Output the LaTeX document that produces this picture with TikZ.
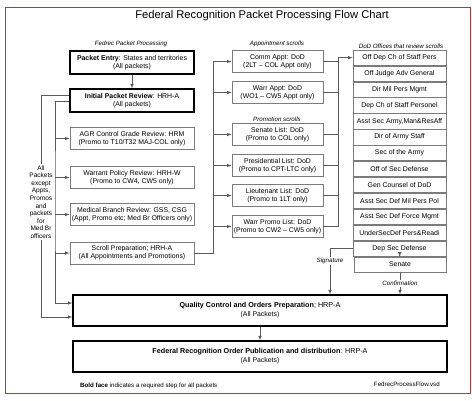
\documentclass[tikz,border=0pt]{standalone}
\usepackage{fontspec}
\setmainfont{Liberation Sans}
\usetikzlibrary{arrows,positioning,calc}
\definecolor{framered}{RGB}{170,60,60}
\definecolor{linegray}{RGB}{90,90,90}
\newcommand{\boxfont}{\fontsize{6.9}{8}\selectfont}
\newcommand{\tagfont}{\fontsize{6.2}{7}\selectfont\itshape}

\begin{document}
\begin{tikzpicture}[x=1pt, y=-1pt, >=latex, every node/.style={font=\boxfont}, inner sep=1pt,
    req/.style={draw, line width=1.2pt, align=center, minimum height=23pt},
    opt/.style={draw=linegray!80, line width=0.6pt, align=center, minimum height=22pt},
    scrollbox/.style={opt, minimum width=91pt},
    office/.style={draw=linegray!80, line width=0.6pt, minimum width=93pt, minimum height=15.3pt},
    tag/.style={font=\tagfont},
    conn/.style={draw=linegray, line width=0.6pt}]
  \useasboundingbox (0,0) rectangle (472,400);
  \draw[framered, line width=0.8pt] (5,7) rectangle (470,393);

  % Title and column headings
  \node[font=\fontsize{11.2}{13}\selectfont] (title) at (262,16) {Federal Recognition Packet Processing Flow Chart};
  \node[tag] (fedrecTag) at (131,44) {Fedrec Packet Processing};
  \node[tag] (apptTag) at (277,44) {Appointment scrolls};
  \node[tag] (promoTag) at (277,119) {Promotion scrolls};
  \node[tag] (dodTag) at (401,46) {DoD Offices that review scrolls};

  % Fedrec packet processing steps
  \node[req, minimum width=124pt] (entry) at (132,62.5) {\textbf{Packet Entry}: States and territories\\(All packets)};
  \node[req, minimum width=124pt] (initial) at (132,100.5) {\textbf{Initial Packet Review}: HRH-A\\(All packets)};
  \node[opt, minimum width=124pt] (agr) at (132,138.5) {AGR Control Grade Review: HRM\\(Promo to T10/T32 MAJ-COL only)};
  \node[opt, minimum width=124pt] (warrpol) at (132,177.5) {Warrant Policy Review: HRH-W\\(Promo to CW4, CW5 only)};
  \node[opt, minimum width=124pt] (med) at (132,214.5) {Medical Branch Review: GSS, CSG\\(Appt, Promo etc; Med Br Officers only)};
  \node[opt, minimum width=124pt] (scroll) at (132,253) {Scroll Preparation; HRH-A\\(All Appointments and Promotions)};

  % Scrolls
  \node[scrollbox] (comm) at (277.5,61.5) {Comm Appt: DoD\\(2LT -- COL Appt only)};
  \node[scrollbox] (warrappt) at (277.5,92.5) {Warr Appt: DoD\\(WO1 -- CW5 Appt only)};
  \node[scrollbox] (senate) at (277.5,134.5) {Senate List: DoD\\(Promo to COL only)};
  \node[scrollbox] (pres) at (277.5,165.5) {Presidential List: DoD\\(Promo to CPT-LTC only)};
  \node[scrollbox] (lt) at (277.5,195.5) {Lieutenant List: DoD\\(Promo to 1LT only)};
  \node[scrollbox] (warrpromo) at (277.5,226.5) {Warr Promo List: DoD\\(Promo to CW2 -- CW5 only)};

  % DoD offices
  \node[office] (o1) at (399.5,57.65) {Off Dep Ch of Staff Pers};
  \node[office, below=0pt of o1] (o2) {Off Judge Adv General};
  \node[office, below=0pt of o2] (o3) {Dir Mil Pers Mgmt};
  \node[office, below=0pt of o3] (o4) {Dep Ch of Staff Personel};
  \node[office, below=0pt of o4] (o5) {Asst Sec Army,Man\&ResAff};
  \node[office, below=0pt of o5] (o6) {Dir of Army Staff};
  \node[office, below=0pt of o6] (o7) {Sec of the Army};
  \node[office, below=0pt of o7] (o8) {Off of Sec Defense};
  \node[office, below=0pt of o8] (o9) {Gen Counsel of DoD};
  \node[office, below=0pt of o9] (o10) {Asst Sec Def Mil Pers Pol};
  \node[office, below=0pt of o10] (o11) {Asst Sec Def Force Mgmt};
  \node[office, below=0pt of o11] (o12) {UnderSecDef Pers\&Readi};
  \node[office, below=0pt of o12] (o13) {Dep Sec Defense};
  \node[office, minimum width=92pt, minimum height=15pt] (senateBox) at (400,264.5) {Senate};

  % Final steps
  \node[req, minimum width=374pt, minimum height=31pt, font=\fontsize{7.2}{9}\selectfont] (qc) at (260,310.5) {\textbf{Quality Control and Orders Preparation}; HRP-A\\{\boxfont(All Packets)}};
  \node[req, minimum width=374pt, minimum height=31pt, font=\fontsize{7.2}{9}\selectfont] (fed) at (260,356.5) {\textbf{Federal Recognition Order Publication and distribution}: HRP-A\\{\boxfont(All Packets)}};

  % Left side routing
  \node[align=center, font=\fontsize{6.5}{7.6}\selectfont] (allLbl) at (41,202) {All\\Packets\\except\\Appts,\\Promos\\and\\packets\\for\\Med Br\\officers};
  \coordinate (lbus) at (55,200);
  \coordinate (mbus) at (213,150);
  \coordinate (rbus) at (338,150);
  \coordinate (sig) at (330,0);

  \draw[conn, ->] (entry) -- (initial);
  \draw[conn] ([yshift=5.5pt]initial.west) -| (allLbl.north);
  \draw[conn, ->] (allLbl.south) |- ([yshift=-6.5pt]qc.west);
  \draw[conn, ->] ([yshift=-1pt]initial.west) -| (lbus) |- ([yshift=7.5pt]qc.west);
  \foreach \n in {agr,warrpol,med,scroll}
    \draw[conn, ->] (lbus |- \n.west) -- (\n.west);

  % Scroll routing
  \draw[conn] (scroll.east) -| (mbus |- comm.west);
  \foreach \n in {comm,warrappt,senate,pres,lt,warrpromo}{
    \draw[conn, ->] (mbus |- \n.west) -- (\n.west);
    \draw[conn] (\n.east) -- (rbus |- \n.east);
  }
  \draw[conn, ->] (rbus |- warrpromo.east) |- (o1.west);

  % Signature and confirmation
  \draw[conn, ->] (o13.west) -| node[pos=0.64, fill=white, tag] {Signature} (sig |- qc.north);
  \draw[conn, ->] (o13) -- (senateBox);
  \draw[conn, ->] (senateBox) -- node[fill=white, tag] {Confirmation} (senateBox |- qc.north);
  \draw[conn, ->] (qc) -- (fed);

  % Footer
  \node[anchor=west, font=\fontsize{6.2}{7}\selectfont] (note) at (79,386) {\textbf{Bold face} indicates a required step for all packets};
  \node[anchor=east, font=\fontsize{6.2}{7}\selectfont] (fileName) at (441,384) {FedrecProcessFlow.vsd};
\end{tikzpicture}
\end{document}
